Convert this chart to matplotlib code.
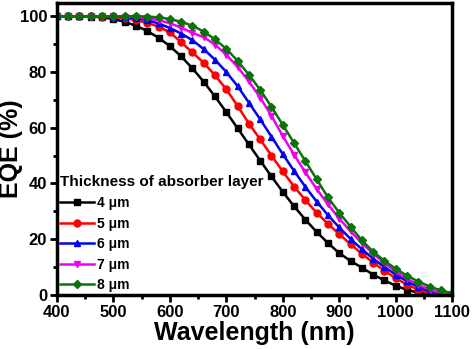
import matplotlib
matplotlib.use("Agg")
import matplotlib.pyplot as plt
from matplotlib.ticker import MultipleLocator

wavelength = list(range(400, 1101, 20))

eqe_4um = [100, 100, 100, 99.9, 99.6, 99.0, 98.0, 96.6, 94.7, 92.3, 89.3, 85.6,
           81.3, 76.5, 71.2, 65.6, 59.8, 54.0, 48.2, 42.5, 37.0, 31.8, 27.0, 22.6,
           18.6, 15.0, 12.2, 9.8, 7.3, 5.2, 3.3, 1.8, 0.8, 0.2, 0.0, 0.0]
eqe_5um = [100, 100, 100, 100, 99.9, 99.7, 99.3, 98.6, 97.6, 96.3, 94.2, 90.7,
           87.0, 83.3, 78.8, 73.8, 67.8, 61.5, 55.8, 50.0, 44.3, 38.9, 34.0, 29.5,
           25.5, 21.8, 18.2, 14.8, 11.6, 8.7, 6.0, 3.7, 1.9, 0.7, 0.1, 0.0]
eqe_6um = [100, 100, 100, 100, 100, 99.9, 99.7, 99.3, 98.6, 97.4, 95.8, 93.8,
           91.4, 88.2, 84.4, 80.0, 74.9, 69.0, 63.0, 56.8, 50.5, 44.5, 38.8, 33.5,
           28.6, 24.2, 20.1, 16.4, 13.0, 10.0, 7.3, 4.9, 2.9, 1.3, 0.3, 0.0]
eqe_7um = [100, 100, 100, 100, 100, 100, 99.9, 99.7, 99.3, 98.6, 97.5, 95.9,
           94.0, 92.5, 89.8, 86.2, 81.8, 76.6, 70.8, 64.3, 57.0, 50.3, 44.0, 38.0,
           32.5, 27.4, 22.8, 18.6, 14.8, 11.4, 8.4, 5.8, 3.6, 1.9, 0.7, 0.1]
eqe_8um = [100, 100, 100, 100, 100, 100, 100, 100, 99.9, 99.6, 99.0, 98.0,
           96.6, 94.5, 91.7, 88.3, 84.0, 79.0, 73.6, 67.5, 61.0, 54.5, 48.0, 41.5,
           35.0, 29.5, 24.5, 19.6, 15.5, 12.2, 9.4, 6.9, 4.8, 3.0, 1.6, 0.6]

labels = ["4 μm", "5 μm", "6 μm", "7 μm", "8 μm"]
series = [eqe_4um, eqe_5um, eqe_6um, eqe_7um, eqe_8um]
colors = ["#000000", "#ff0000", "#0000ee", "#ee00ee", "#0a720a"]
markers = ["s", "o", "^", "v", "D"]
msizes = [4, 5, 5, 5, 4.5]

plt.rcParams['font.family'] = ['Liberation Sans', 'DejaVu Sans']
plt.rcParams['font.weight'] = 'bold'

fig = plt.figure(figsize=(4.74, 3.49), dpi=100)
ax = fig.add_axes([0.120, 0.155, 0.834, 0.836])

for y, lab, c, m, ms in zip(series, labels, colors, markers, msizes):
    ax.plot(wavelength, y, color=c, marker=m, markersize=ms, linewidth=1.8,
            label=lab)

ax.set_xlim(400, 1100)
ax.set_ylim(0, 104.7)
ax.xaxis.set_major_locator(MultipleLocator(100))
ax.xaxis.set_minor_locator(MultipleLocator(50))
ax.yaxis.set_major_locator(MultipleLocator(20))
ax.yaxis.set_minor_locator(MultipleLocator(10))
ax.tick_params(which='major', direction='out', length=5, width=2, labelsize=12,
               pad=2)
ax.tick_params(which='minor', direction='out', length=3, width=2)
for lbl in ax.get_xticklabels() + ax.get_yticklabels():
    lbl.set_fontweight('bold')
for s in ax.spines.values():
    s.set_linewidth(2.5)

ax.set_xlabel("Wavelength (nm)", fontsize=18, fontweight='bold', labelpad=1)
ax.set_ylabel("EQE (%)", fontsize=18, fontweight='bold')
ax.yaxis.set_label_coords(-0.085, 0.5)

leg = ax.legend(loc='lower left', bbox_to_anchor=(0.0, 0.0), frameon=False,
                title="Thickness of absorber layer",
                title_fontproperties={'size': 11, 'weight': 'bold'},
                prop={'size': 10, 'weight': 'bold'},
                handlelength=2.5, handletextpad=0.2, labelspacing=0.47,
                borderpad=0.2, borderaxespad=0.0, alignment='left')

fig.savefig("out.png", dpi=100)
